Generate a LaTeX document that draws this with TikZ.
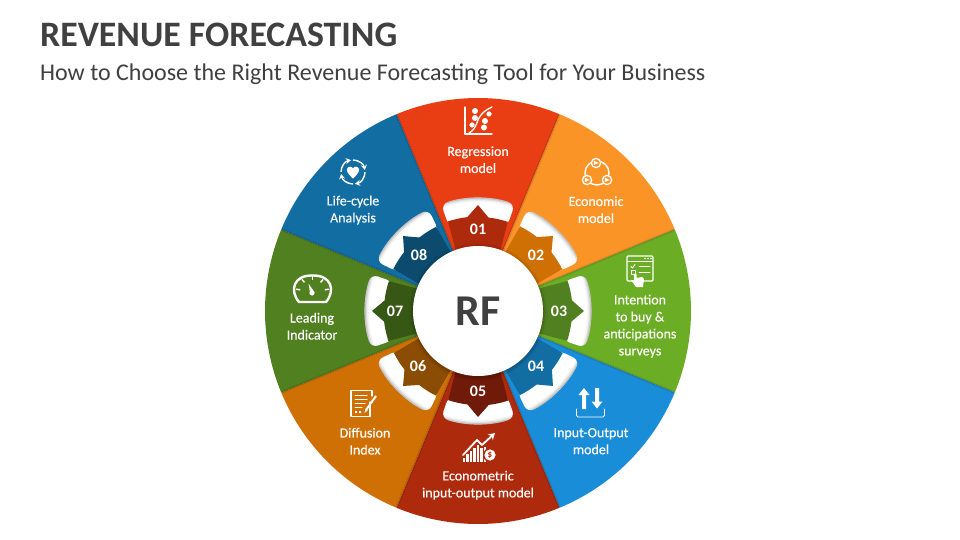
\documentclass[tikz,border=0pt]{standalone}
\usepackage{fontspec}
\setmainfont{Carlito}
\newfontfamily\lblfont[FakeBold=0.25]{Carlito}
\usetikzlibrary{arrows.meta}
\definecolor{wA}{HTML}{E93E13}\definecolor{dA}{HTML}{AE2A0D}
\definecolor{wB}{HTML}{FB9426}\definecolor{dB}{HTML}{CF7004}
\definecolor{wC}{HTML}{6BAD25}\definecolor{dC}{HTML}{518020}
\definecolor{wD}{HTML}{1A8DD8}\definecolor{dD}{HTML}{126DA2}
\definecolor{wE}{HTML}{AE2A0D}\definecolor{dE}{HTML}{701A09}
\definecolor{wF}{HTML}{CF7004}\definecolor{dF}{HTML}{8B4C03}
\definecolor{wG}{HTML}{518020}\definecolor{dG}{HTML}{375815}
\definecolor{wH}{HTML}{126DA2}\definecolor{dH}{HTML}{0C4A6E}
\definecolor{inkgrey}{HTML}{404040}
\tikzset{
  x=1pt,y=1pt,
  lbl/.style={text=white,font=\lblfont\fontsize{14}{17}\selectfont,align=center,inner sep=0pt,yshift=.8pt},
  num/.style={text=white,font=\fontsize{16}{16}\selectfont\bfseries,inner sep=0pt},
  ico/.style={draw=white,line width=1.3pt,line cap=round,line join=round},
}
\begin{document}
\begin{tikzpicture}
\useasboundingbox (0,0) rectangle (960,-540);
\fill[white] (0,0) rectangle (960,-540);
\node[anchor=west,inner sep=0pt,text=inkgrey,font=\fontsize{35.8}{40}\selectfont\bfseries] (title) at (40,-34.5) {REVENUE FORECASTING};
\node[anchor=west,inner sep=0pt,text=inkgrey,font=\fontsize{24}{28}\selectfont] (subtitle) at (40,-74) {How to Choose the Right Revenue Forecasting Tool for Your Business};
\begin{scope}[shift={(478,-311)}]
 \foreach \a/\w in {90/wA,45/wB,0/wC,-45/wD,-90/wE,-135/wF,180/wG,135/wH}{
   \fill[\w,rotate=\a] (0,0) -- (-22.5:213) arc[start angle=-22.5,end angle=22.5,radius=213] -- cycle;
 }
 \foreach \a in {22.5,67.5,...,337.5}{
   \draw[black,opacity=.05,line width=3pt] (\a:60) -- (\a:212);
   \draw[black,opacity=.12,line width=1.4pt] (\a:60) -- (\a:212);
 }
 \foreach \a/\d in {90/dA,45/dB,0/dC,-45/dD,-90/dE,-135/dF,180/dG,135/dH}{
  \begin{scope}[rotate=\a]
   \begin{scope}
    \clip[rounded corners=7pt] (-19:90) -- (-19:113) arc[start angle=-19,end angle=19,radius=113] -- (19:90) -- cycle;
    \fill[white] (70,-60) rectangle (120,60);
    \foreach \lw/\op in {8/.05,5/.08,2.5/.12}{
      \draw[black,opacity=\op,line width=\lw pt] (-25:113.5) arc[start angle=-25,end angle=25,radius=113.5];
    }
   \end{scope}
   \fill[\d] (-20.5:62) -- (-18.5:94) arc[start angle=-18.5,end angle=-6.5,radius=94.5] -- (106,0) -- (6.5:94.5) arc[start angle=6.5,end angle=18.5,radius=94.5] -- (20.5:62) -- cycle;
  \end{scope}
 }
 \foreach \lw/\op in {8/.04,5/.06,2.5/.08}{
   \draw[black,opacity=\op,line width=\lw pt] (0,-1) circle[radius=65];
 }
 \node[circle,fill=white,minimum size=130pt,inner sep=0pt,text=inkgrey,font=\fontsize{44}{46}\selectfont\bfseries] (hub) at (0,0) {RF};
\end{scope}
% numbers
\node[num] (n1) at (478,-229) {01};
\node[num] (n2) at (536,-255) {02};
\node[num] (n3) at (559,-311) {03};
\node[num] (n4) at (536,-366) {04};
\node[num] (n5) at (478,-391) {05};
\node[num] (n6) at (418,-366) {06};
\node[num] (n7) at (395,-311) {07};
\node[num] (n8) at (419,-255) {08};
% labels
\node[lbl] (l1) at (478,-160.5) {Regression\\model};
\node[lbl] (l2) at (596,-210.5) {Economic\\model};
\node[lbl] (l3) at (640,-327) {Intention\\to buy \&\\anticipations\\surveys};
\node[lbl] (l4) at (591,-442) {Input-Output\\model};
\node[lbl] (l5) at (478,-486) {Econometric\\input-output model};
\node[lbl] (l6) at (365,-442) {Diffusion\\Index};
\node[lbl] (l7) at (312,-327) {Leading\\Indicator};
\node[lbl] (l8) at (353,-211) {Life-cycle\\Analysis};
% icon: regression
\draw[ico] (465,-107) -- (465,-134) -- (492,-134);
\foreach \x/\y/\r in {475/-111/3,489/-114/2.6,475/-118/3,485/-121/3,472/-125/2.6,484/-127.5/3}{\fill[white] (\x,\y) circle[radius=\r];}
\draw[ico,line width=1.3pt] (469,-133) .. controls (478,-128) and (476,-120) .. (481,-115) .. controls (484,-111) and (488,-109) .. (492,-107);
% icon: economic
\draw[ico,line width=1.4pt] (597,-173) circle[radius=12];
\foreach \x/\y in {596/-163,587/-180,607/-180}{\filldraw[draw=white,fill=wB,line width=1.3pt] (\x,\y) circle[radius=4.6];
 \fill[white] (\x,\y) ++(-2.2,-2) -- ++(4.8,2) -- ++(-4.8,2.4) -- cycle;}
% icon: intention
\draw[ico,line width=1.1pt,rounded corners=1pt] (627,-256) rectangle (653,-281);
\draw[ico,line width=1pt] (627,-261) -- (653,-261);
\foreach \x in {645,648,651}{\fill[white] (\x,-258.5) circle[radius=.8];}
\draw[ico,line width=.9pt] (631,-266.5) -- (632.5,-268) -- (635,-264.5);
\draw[ico,line width=.9pt] (639,-266) -- (650,-266) (639,-272) -- (650,-272);
\draw[ico,line width=.8pt] (631,-270) rectangle (635,-274);
\fill[white] (634,-274) -- (636.5,-274) -- (636.5,-278) -- (642,-277) -- (644,-279) -- (643,-287) -- (636,-287) -- (631,-280) -- (634,-280) -- cycle;
% icon: input-output
\fill[white] (584,-388) -- (589.5,-395) -- (586,-395) -- (586,-409) -- (582,-409) -- (582,-395) -- (578.5,-395) -- cycle;
\fill[white] (597,-408.5) -- (591.5,-401.5) -- (595,-401.5) -- (595,-388) -- (599,-388) -- (599,-401.5) -- (602.5,-401.5) -- cycle;
\draw[ico,line width=.9pt,rounded corners=1.5pt] (576.5,-409) -- (576.5,-417) -- (604.5,-417) -- (604.5,-409);
% icon: econometric
\foreach \x/\t in {464/-458,467.5/-454,471/-450.5,474.5/-447.5,478/-445,481.5/-448,485/-447}{
  \fill[white] (\x-1.2,-462) rectangle (\x+1.2,\t);}
\draw[ico,line width=1.8pt,-{Stealth[length=6.5pt,width=7.5pt]}] (463,-455) -- (477,-440) -- (482,-445) -- (495,-433);
\fill[wE] (490,-455) circle[radius=7];
\fill[white] (490,-455) circle[radius=5.6];
\node[inner sep=0pt,text=wE,font=\fontsize{9}{9}\selectfont\bfseries] (dollar) at (490,-455) {\$};
% icon: diffusion
\draw[ico,line width=1.2pt] (370,-402) -- (370,-416.5) -- (351,-416.5) -- (351,-390.5) -- (372,-390.5) -- (372,-396);
\draw[ico,line width=1pt] (355,-395.5) -- (367,-395.5) (355,-399.5) -- (367,-399.5) (355,-403.5) -- (365,-403.5) (355,-407.5) -- (362,-407.5);
\fill[white] (355,-411) rectangle (357,-413) (359,-411) rectangle (361,-413);
\draw[white,line width=2pt] (366,-410) -- (376,-396);
\fill[white] (364.5,-413) -- (365.5,-409) -- (367.5,-410.5) -- cycle;
% icon: leading
\draw[ico,line width=2.4pt] (299,-302) .. controls (289,-290) and (294,-275) .. (312.5,-275.5) .. controls (331,-275) and (336,-290) .. (326,-302) -- cycle;
\foreach \a in {10,50,90,130,170}{
  \draw[white,line width=1.5pt] ([shift={(312.5,-292)}]\a:12.5) -- ([shift={(312.5,-292)}]\a:16.5);}
\fill[white] (312,-293) circle[radius=2.6];
\fill[white] (308.5,-283.5) -- (310,-292.5) -- (314.3,-292) -- cycle;
% icon: life-cycle
\foreach \a in {20,110,200,290}{
  \draw[white,line width=1.4pt,-{Stealth[length=5pt,width=6pt]}] ([shift={(353,-172)}]\a+70:12) arc[start angle=\a+70,end angle=\a-10,radius=12];
}
\fill[white] (353,-178.5) .. controls (347,-173) and (346.5,-170.5) .. (347,-169) .. controls (348,-166) and (352,-166) .. (353,-168.5) .. controls (354,-166) and (358,-166) .. (359,-169) .. controls (359.5,-170.5) and (359,-173) .. (353,-178.5) -- cycle;
\end{tikzpicture}
\end{document}
